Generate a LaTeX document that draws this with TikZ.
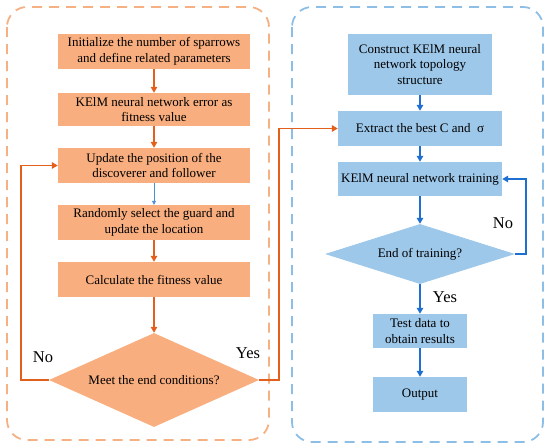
\documentclass[tikz,border=0pt]{standalone}
\usepackage{fontspec}
\setmainfont{Liberation Serif}
\usetikzlibrary{arrows.meta,shapes.geometric}
\definecolor{ofill}{HTML}{F8AE7E}
\definecolor{oline}{HTML}{E2601C}
\definecolor{ocont}{HTML}{F5B083}
\definecolor{bfill}{HTML}{9DC8EA}
\definecolor{bline}{HTML}{1F6FD0}
\definecolor{bcont}{HTML}{8DBFE6}
\begin{document}
\begin{tikzpicture}[x=1pt,y=-1pt,font=\rmfamily\fontsize{13}{15.5}\selectfont,
  obox/.style={fill=ofill,draw=none,align=center,inner sep=0pt,minimum width=192pt},
  bbox/.style={fill=bfill,draw=none,align=center,inner sep=0pt},
  oarr/.style={draw=oline,line width=1.8pt,-{Triangle[length=6pt,width=6.5pt]}},
  barr/.style={draw=bline,line width=1.8pt,-{Triangle[length=6pt,width=6.5pt]}},
  thinarr/.style={draw=bline!80,line width=0.7pt,-{Triangle[length=4pt,width=4pt]}},
  cont/.style={line width=1.8pt,dash pattern=on 10pt off 7pt,rounded corners=20pt},
  lbl/.style={font=\rmfamily\fontsize{16.5}{18}\selectfont,inner sep=0pt}]
\useasboundingbox (0,0) rectangle (550,448);
\draw[cont,draw=ocont] (7,7) rectangle (269,440);
\draw[cont,draw=bcont] (292,7) rectangle (543,442);
% left column
\node[obox,minimum height=35pt] (b1) at (154,51.5) {Initialize the number of sparrows\\and define related parameters};
\node[obox,minimum height=33pt] (b2) at (154,109.5) {KElM neural network error as\\fitness value};
\node[obox,minimum height=35pt] (b3) at (154,165.5) {Update the position of the\\discoverer and follower};
\node[obox,minimum height=35pt] (b4) at (154,222.5) {Randomly select the guard and\\update the location};
\node[obox,minimum height=35pt] (b5) at (154,279.5) {Calculate the fitness value};
\node[diamond,fill=ofill,inner sep=0pt,aspect=2.23,minimum width=210pt,minimum height=94pt] (d1) at (154,380) {Meet the end conditions?};
% right column
\node[bbox,minimum width=144pt,minimum height=61pt] (c1) at (420,64.5) {Construct KElM neural\\network topology\\structure};
\node[bbox,minimum width=164pt,minimum height=35pt] (c2) at (420,128.5) {Extract the best C and ~σ};
\node[bbox,minimum width=164pt,minimum height=34pt] (c3) at (420,179) {KElM neural network training};
\node[diamond,fill=bfill,inner sep=0pt,aspect=3.1,minimum width=190pt,minimum height=60pt] (d2) at (420,254) {End of training?};
\node[bbox,minimum width=94pt,minimum height=34pt] (c4) at (420,331) {Test data to\\obtain results};
\node[bbox,minimum width=94pt,minimum height=35pt] (c5) at (420,394.5) {Output};
% left connectors
\draw[oarr] (b1) -- (b2);
\draw[oarr] (b2) -- (b3);
\draw[thinarr] (b3) -- (b4);
\draw[oarr] (b4) -- (b5);
\draw[oarr] (b5) -- (d1);
\draw[oarr] (d1.west) -- ++(-28,0) |- (b3.west);
\draw[oarr] (d1.east) -- ++(20,0) |- (c2.west);
% right connectors
\draw[barr] (c1) -- (c2);
\draw[barr] (c2) -- (c3);
\draw[barr] (c3) -- (d2);
\draw[barr] (d2) -- (c4);
\draw[barr] (c4) -- (c5);
\draw[barr] (d2.east) -- ++(11,0) |- (c3.east);
% labels
\node[lbl] (no1) at (43,357) {No};
\node[lbl] (yes1) at (248,353) {Yes};
\node[lbl] (no2) at (503,223) {No};
\node[lbl] (yes2) at (445,297) {Yes};
\end{tikzpicture}
\end{document}
